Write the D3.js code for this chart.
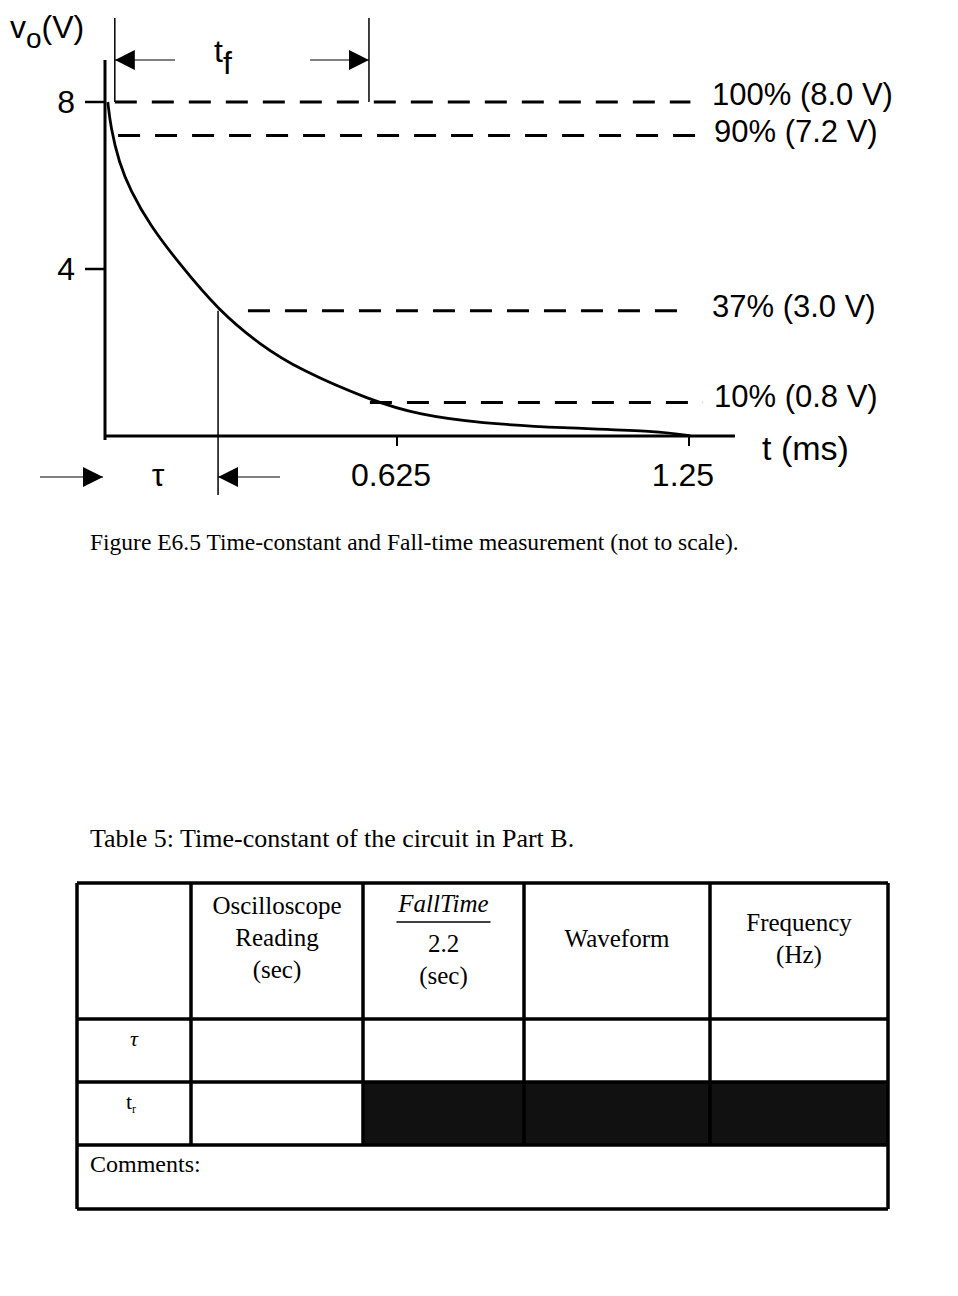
<!DOCTYPE html>
<html><head><meta charset="utf-8">
<script src="https://cdn.jsdelivr.net/npm/d3@7"></script>
<style>body{margin:0;background:#fff}</style>
</head><body>
<svg id="fig" width="958" height="1296"></svg>
<script>
// curve (t in ms, v in volts)
const curveT = [0.006, 0.012, 0.030, 0.054, 0.096, 0.161, 0.242, 0.332, 0.418, 0.567, 0.674, 0.803, 0.974, 1.188, 1.253];
const curveV = [8.0, 7.4, 6.55, 5.89, 5.05, 4.10, 3.02, 2.18, 1.58, 0.86, 0.50, 0.31, 0.19, 0.12, 0.0];
const levelLabels = ['100% (8.0 V)', '90% (7.2 V)', '37% (3.0 V)', '10% (0.8 V)'];
const levelValues = [8.0, 7.2, 3.0, 0.8];
const levelStart = [0.021, 0.028, 0.306, 0.567];
const levelEnd = [1.253, 1.265, 1.231, 1.28];
const yTicks = [4, 8];
const xTicks = [0.625, 1.25];
const tau = 0.242, tfEnd = 0.565;

const colHeads = [[], ['Oscilloscope', 'Reading', '(sec)'], ['FallTime', '2.2', '(sec)'], ['Waveform'], ['Frequency', '(Hz)']];
const rowHeads = ['τ', 't'];

const svg = d3.select('#fig');
const x = d3.scaleLinear().domain([0, 1.25]).range([105, 689]);
const y = d3.scaleLinear().domain([0, 8]).range([436, 102]);
const sans = 'Arial, "Liberation Sans", sans-serif';
const serif = '"Liberation Serif", "DejaVu Serif", serif';

svg.append('defs').append('marker').attr('id', 'ah')
    .attr('viewBox', '0 0 10 10').attr('refX', 10).attr('refY', 5)
    .attr('markerWidth', 20).attr('markerHeight', 20).attr('markerUnits', 'userSpaceOnUse')
    .attr('orient', 'auto').append('path').attr('d', 'M0,0L10,5L0,10Z');

const g = svg.append('g').attr('stroke', '#000').attr('fill', 'none');

// axes
g.append('line').attr('x1', x(0)).attr('x2', x(0)).attr('y1', 60).attr('y2', 440).attr('stroke-width', 3);
g.append('line').attr('x1', x(0)).attr('x2', 735).attr('y1', y(0)).attr('y2', y(0)).attr('stroke-width', 3);
yTicks.forEach(v => g.append('line').attr('x1', 85).attr('x2', x(0)).attr('y1', y(v)).attr('y2', y(v)).attr('stroke-width', 2.5));
xTicks.forEach(v => g.append('line').attr('x1', x(v)).attr('x2', x(v)).attr('y1', y(0)).attr('y2', y(0) + 10).attr('stroke-width', 2));

// dashed levels
levelValues.forEach((v, i) => g.append('line')
    .attr('x1', x(levelStart[i])).attr('x2', x(levelEnd[i]))
    .attr('y1', y(v)).attr('y2', y(v))
    .attr('stroke-width', 3).attr('stroke-dasharray', '22,15'));

// decay curve
g.append('path').datum(curveT.map((t, i) => [t, curveV[i]]))
    .attr('d', d3.line().x(d => x(d[0])).y(d => y(d[1])).curve(d3.curveBasis))
    .attr('stroke-width', 2.8);

// tf markers
[x(0.021), x(tfEnd)].forEach(px => g.append('line').attr('x1', px).attr('x2', px).attr('y1', 18).attr('y2', y(8)).attr('stroke-width', 1.5));
g.append('line').attr('x1', 175).attr('x2', x(0.021)).attr('y1', 60).attr('y2', 60).attr('marker-end', 'url(#ah)');
g.append('line').attr('x1', 310).attr('x2', x(tfEnd)).attr('y1', 60).attr('y2', 60).attr('marker-end', 'url(#ah)');
// tau markers
g.append('line').attr('x1', x(tau)).attr('x2', x(tau)).attr('y1', y(3)).attr('y2', 495).attr('stroke-width', 1.5);
g.append('line').attr('x1', 280).attr('x2', x(tau)).attr('y1', 477).attr('y2', 477).attr('marker-end', 'url(#ah)');
g.append('line').attr('x1', 40).attr('x2', 103).attr('y1', 477).attr('y2', 477).attr('marker-end', 'url(#ah)');

const txt = (s, px, py, size, opts = {}) => svg.append('text').attr('x', px).attr('y', py)
    .attr('font-family', opts.family || sans).attr('font-size', size)
    .attr('text-anchor', opts.anchor || 'start').attr('font-style', opts.italic ? 'italic' : null).text(s);

yTicks.forEach(v => txt(v, 75, y(v) + 11, 32, { anchor: 'end' }));
xTicks.forEach(v => txt(v, x(v) - 6, 486, 32, { anchor: 'middle' }));
txt('t (ms)', 762, 460, 34);
levelLabels.forEach((s, i) => txt(s, [712, 714, 712, 714][i], y(levelValues[i]) + [3, 7, 6, 4][i], 31));
const vl = txt('v', 10, 38, 32);
vl.append('tspan').attr('dy', 10).attr('font-size', 28).text('o');
vl.append('tspan').attr('dy', -10).text('(V)');
const tl = txt('t', 214, 62, 32);
tl.append('tspan').attr('dy', 12).text('f');
txt('τ', 158, 486, 32, { anchor: 'middle' });

txt('Figure E6.5 Time-constant and Fall-time measurement (not to scale).', 90, 550, 23.5, { family: serif });
txt('Table 5: Time-constant of the circuit in Part B.', 90, 847, 26, { family: serif });

// table
const colX = [77, 191, 363, 524, 710, 888];
const rowY = [883, 1019, 1082, 1145, 1209];
svg.append('rect').attr('x', 363).attr('y', 1082).attr('width', 888 - 363).attr('height', 63).attr('fill', '#111');
const tg = svg.append('g').attr('stroke', '#000').attr('stroke-width', 3.5);
rowY.forEach(py => tg.append('line').attr('x1', 77).attr('x2', 888).attr('y1', py).attr('y2', py));
colX.forEach((px, i) => tg.append('line').attr('x1', px).attr('x2', px).attr('y1', 883)
    .attr('y2', (i === 0 || i === 5) ? 1209 : 1145));

colHeads.forEach((lines, i) => {
    const cx = (colX[i] + colX[i + 1]) / 2;
    if (i === 2) {
        txt(lines[0], cx, 912, 25, { family: serif, anchor: 'middle', italic: true });
        svg.append('line').attr('x1', cx - 47).attr('x2', cx + 47).attr('y1', 922).attr('y2', 922).attr('stroke', '#000').attr('stroke-width', 1.5);
        txt(lines[1], cx, 952, 25, { family: serif, anchor: 'middle' });
        txt(lines[2], cx, 984, 25, { family: serif, anchor: 'middle' });
        return;
    }
    const start = lines.length === 3 ? 914 : lines.length === 2 ? 931 : 947;
    lines.forEach((s, k) => txt(s, cx, start + k * 32, 25, { family: serif, anchor: 'middle' }));
});
const rcx = (colX[0] + colX[1]) / 2;
txt(rowHeads[0], rcx, 1046, 22, { family: serif, anchor: 'middle', italic: true });
const tr = txt(rowHeads[1], rcx - 3, 1109, 22, { family: serif, anchor: 'middle' });
tr.append('tspan').attr('dy', 4).attr('font-size', 12).text('r');
txt('Comments:', 90, 1172, 24, { family: serif });
</script>
</body></html>
